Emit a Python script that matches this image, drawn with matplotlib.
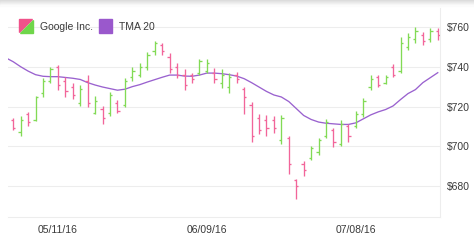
import matplotlib
matplotlib.use("Agg")
import matplotlib.pyplot as plt
from matplotlib.patches import Polygon, Rectangle
import numpy as np

plt.rcParams['font.family'] = ['Liberation Sans', 'DejaVu Sans']

# ---- data ----
opens = [713, 707, 716, 713, 727, 733, 740, 733, 730, 722,
         733, 717, 719, 717, 722, 721, 735, 736, 740, 748,
         751, 745, 740, 736, 736, 737, 738, 737, 732, 730,
         736, 729, 721, 714, 713, 713, 703, 704, 683, 691,
         694, 697, 705, 708, 701, 710, 710, 716, 730, 735,
         732, 740, 738, 750, 754, 756, 754, 758]
highs = [714, 715, 717.5, 725.5, 734.5, 740, 741, 735, 732, 731,
         736, 725.5, 720.5, 727.5, 723.5, 734.5, 740, 742, 747.5, 753,
         752, 747, 742, 739, 737, 744, 744, 739.5, 739, 737,
         737.5, 730, 722.5, 716, 715.5, 715, 715.5, 705, 683.5, 692.5,
         700, 704, 713.5, 709, 713, 711, 718, 724.5, 736, 736,
         736, 741.5, 755, 757, 760, 757.5, 759.5, 759.5]
lows = [708, 705, 710, 712.5, 725, 732, 728.5, 725, 724, 720.5,
        720, 716, 711, 715, 717, 720, 733, 735, 738.5, 746,
        746, 737, 734.5, 728.5, 732, 736, 737, 732, 729.5, 727,
        732, 716, 702, 706, 705, 706.5, 701, 686, 673.5, 685,
        693, 695.5, 704, 699.5, 700, 702, 709, 714.5, 728.5, 730,
        731.5, 735, 737, 748.5, 752, 751, 752.5, 753.5]
closes = [709, 713, 712, 725, 733, 739, 731, 728, 726, 729,
          722, 723, 714, 726, 718, 733, 738, 740, 746, 752,
          748, 739, 736, 731, 734, 743, 742, 734, 736, 735,
          734, 725, 705, 708, 709, 709, 714, 691, 680, 688,
          699, 703, 712, 702, 711, 705, 716, 723, 734, 731,
          735, 736, 752, 755, 758, 753, 758, 756]
# TMA 20 values, starting one bar before the first visible bar
tma = [744.5, 742.5, 740, 737.8, 736, 735.2, 735, 735, 734.6, 734.2,
       733.6, 732, 730.8, 729.8, 729, 728.2, 728.7, 730, 731, 732.3,
       733.5, 734.7, 735.8, 735.8, 735.3, 735.2, 735.8, 736.8, 736.8, 736.5,
       736, 735.3, 734, 732, 729.8, 727.6, 725.8, 724.8, 722.5, 719,
       715.5, 713.5, 712.2, 711.6, 711.3, 711, 711, 711.8, 713.8, 715.8,
       717.3, 718.5, 720.3, 723.5, 726.5, 728.5, 732, 734.5, 737]
tick_positions = [6, 26, 46]
tick_labels = ["05/11/16", "06/09/16", "07/08/16"]
y_ticks = [680, 700, 720, 740, 760]
y_labels = ["$680", "$700", "$720", "$740", "$760"]

PINK = "#f0528a"
GREEN = "#6fd64a"
BAR_PINK = "#f2659a"
BAR_GREEN = "#82da55"
PURPLE = "#9a58cc"
LINE_PURPLE = "#9a62cf"
GRID = "#ededed"
TEXT = "#3a3a3a"

W, H = 474, 240
fig = plt.figure(figsize=(W / 100, H / 100), dpi=100)
fig.patch.set_facecolor("white")
ax = fig.add_axes([8 / W, 1 - 217 / H, (440 - 8) / W, (217 - 8) / H])
ax.set_facecolor("white")

n = len(opens)
x = np.arange(n)
colors = [BAR_GREEN if c >= o else BAR_PINK for o, c in zip(opens, closes)]
ax.vlines(x, lows, highs, colors=colors, linewidth=0.95, zorder=3)
hw = 0.3
ax.hlines(opens, x - hw, x, colors=colors, linewidth=0.95, zorder=3)
ax.hlines(closes, x, x + hw, colors=colors, linewidth=0.95, zorder=3)

tx = np.arange(-1, len(tma) - 1)
ax.plot(tx, tma, color=LINE_PURPLE, linewidth=0.95, zorder=2)

ax.set_xlim(-0.7, 57.3)
ax.set_ylim(664.5, 769.5)
ax.set_yticks(y_ticks)
ax.set_yticklabels(y_labels)
ax.yaxis.tick_right()
ax.set_xticks(tick_positions)
ax.set_xticklabels(tick_labels)
ax.tick_params(axis='both', length=0, labelsize=7.5, colors=TEXT)
ax.tick_params(axis='y', pad=5)
ax.tick_params(axis='x', pad=5.5)
ax.grid(axis='y', color=GRID, linewidth=0.8, zorder=0)
for s in ['top', 'left']:
    ax.spines[s].set_visible(False)
for s in ['bottom', 'right']:
    ax.spines[s].set_color(GRID)
    ax.spines[s].set_linewidth(0.8)

# top shadow band
for i in range(6):
    fig.patches.append(Rectangle((0, 1 - (i + 1) / H), 1, 1 / H,
                                 transform=fig.transFigure,
                                 color=str(0.86 + 0.025 * i), zorder=0))

# legend
def fx(px):
    return px / W

def fy(py):
    return 1 - py / H

x0, x1, y0, y1 = 19.5, 32.5, 19.5, 32.5
fig.patches.append(Polygon([(fx(x0), fy(y0)), (fx(x1), fy(y0)), (fx(x0), fy(y1))],
                           closed=True, transform=fig.transFigure, color=PINK))
fig.patches.append(Polygon([(fx(x1), fy(y0)), (fx(x1), fy(y1)), (fx(x0), fy(y1))],
                           closed=True, transform=fig.transFigure, color=GREEN))
fig.text(fx(39.5), fy(26.5), "Google Inc.", fontsize=7.5, color=TEXT, va='center', ha='left')
fig.patches.append(Rectangle((fx(99), fy(32.5)), 13 / W, 13 / H,
                             transform=fig.transFigure, color=PURPLE))
fig.text(fx(119), fy(26.5), "TMA 20", fontsize=7.5, color=TEXT, va='center', ha='left')

fig.savefig("out.png", dpi=100, facecolor="white")
